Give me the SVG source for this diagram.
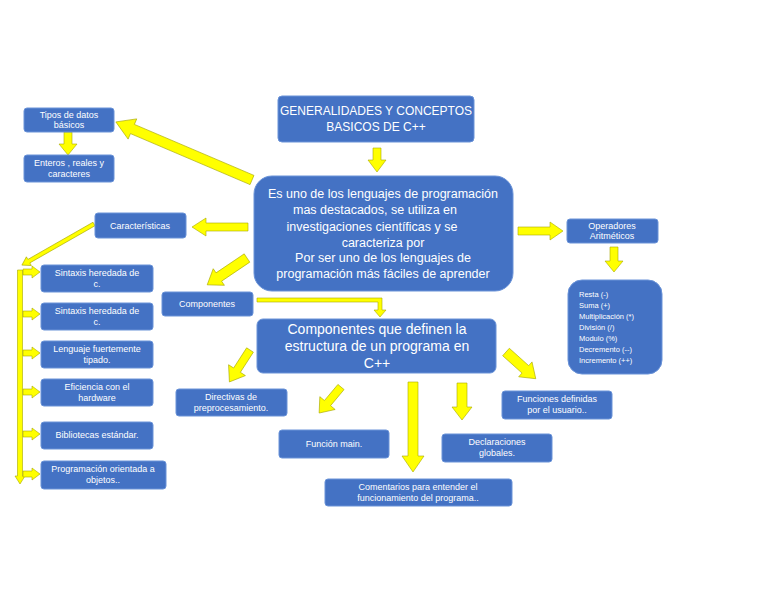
<svg xmlns="http://www.w3.org/2000/svg" width="768" height="594" viewBox="0 0 768 594">
<style>
.b{fill:#4472c4;stroke:#6a93d8;stroke-width:1}
.t{fill:#fff;font-family:"Liberation Sans",Arial,sans-serif;font-size:9px;text-anchor:middle}
.m{font-size:12.5px}
.a{fill:#ffff00;stroke:#a8a800;stroke-width:0.6}
</style>
<rect width="768" height="594" fill="#fff"/>
<g id="connectors">
<polygon class="a" transform="translate(377,148) rotate(90)" points="0,-4 12,-4 12,-9 24,0 12,9 12,4 0,4"/>
<polygon class="a" transform="translate(252,180) rotate(203.1)" points="0,-5 130,-5 130,-11 148,0 130,11 130,5 0,5"/>
<polygon class="a" transform="translate(68,132) rotate(90)" points="0,-4 12,-4 12,-9 23,0 12,9 12,4 0,4"/>
<polygon class="a" transform="translate(248,227) rotate(180)" points="0,-4 42,-4 42,-9 56,0 42,9 42,4 0,4"/>
<polygon class="a" transform="translate(94,224) rotate(150.3)" points="0,-2 75,-2 75,-5 83,0 75,5 75,2 0,2"/>
<polygon class="a" transform="translate(247,258) rotate(146)" points="0,-5 34,-5 34,-10 48,0 34,10 34,5 0,5"/>
<polygon class="a" points="257,298 382,298 382,310 386,310 380,317 374,310 378,310 378,302 257,302"/>
<polygon class="a" transform="translate(518,231) rotate(0)" points="0,-4 32,-4 32,-9 45,0 32,9 32,4 0,4"/>
<polygon class="a" transform="translate(614,247) rotate(90)" points="0,-4 14,-4 14,-9 25,0 14,9 14,4 0,4"/>
<polygon class="a" transform="translate(20,270) rotate(90)" points="0,-2.5 206,-2.5 206,-5 214,0 206,5 206,2.5 0,2.5"/>
<polygon class="a" transform="translate(23,272)" points="0,-3 9,-3 9,-6 17,0 9,6 9,3 0,3"/>
<polygon class="a" transform="translate(23,314)" points="0,-3 9,-3 9,-6 17,0 9,6 9,3 0,3"/>
<polygon class="a" transform="translate(23,353)" points="0,-3 9,-3 9,-6 17,0 9,6 9,3 0,3"/>
<polygon class="a" transform="translate(23,392)" points="0,-3 9,-3 9,-6 17,0 9,6 9,3 0,3"/>
<polygon class="a" transform="translate(23,434)" points="0,-3 9,-3 9,-6 17,0 9,6 9,3 0,3"/>
<polygon class="a" transform="translate(23,474)" points="0,-3 9,-3 9,-6 17,0 9,6 9,3 0,3"/>
<polygon class="a" transform="translate(250,350) rotate(122.8)" points="0,-4 24,-4 24,-10 38,0 24,10 24,4 0,4"/>
<polygon class="a" transform="translate(341,387) rotate(130)" points="0,-4 21,-4 21,-10 34,0 21,10 21,4 0,4"/>
<polygon class="a" transform="translate(413,382) rotate(90)" points="0,-5 74,-5 74,-11 90,0 74,11 74,5 0,5"/>
<polygon class="a" transform="translate(462,383) rotate(90)" points="0,-5 24,-5 24,-10 37,0 24,10 24,5 0,5"/>
<polygon class="a" transform="translate(506,352) rotate(41.9)" points="0,-5 26,-5 26,-10 40,0 26,10 26,5 0,5"/>
</g>
<g id="n-title"><rect class="b" x="278" y="96" width="196" height="46" rx="4"/><text class="t" style="font-size:12px" x="376" y="115">GENERALIDADES Y CONCEPTOS</text><text class="t" style="font-size:12px" x="376" y="131">BASICOS DE C++</text></g>
<g id="n-main"><rect class="b" x="254" y="176" width="259" height="115" rx="18"/>
<text class="t m" x="383" y="198">Es uno de los lenguajes  de programación</text>
<text class="t m" x="375" y="214">mas destacados, se utiliza en</text>
<text class="t m" x="372" y="231">investigaciones científicas y  se</text>
<text class="t m" x="383" y="247">caracteriza por</text>
<text class="t m" x="383" y="262">Por ser uno de los lenguajes  de</text>
<text class="t m" x="383" y="278">programación  más  fáciles de aprender</text></g>
<g id="n-tipos"><rect class="b" x="24" y="108" width="90" height="24" rx="3"/><text class="t" x="69" y="118">Tipos de datos</text><text class="t" x="69" y="128">básicos</text></g>
<g id="n-enteros"><rect class="b" x="24" y="155" width="90" height="27" rx="3"/><text class="t" x="69" y="166">Enteros , reales  y</text><text class="t" x="69" y="177">caracteres</text></g>
<g id="n-caract"><rect class="b" x="95" y="213" width="91" height="25" rx="3"/><text class="t" x="140" y="229">Características</text></g>
<g id="n-c1"><rect class="b" x="41" y="265" width="112" height="27" rx="3"/><text class="t" x="97" y="276">Sintaxis heredada de</text><text class="t" x="97" y="287">c.</text></g>
<g id="n-c2"><rect class="b" x="41" y="303" width="112" height="27" rx="3"/><text class="t" x="97" y="314">Sintaxis heredada de</text><text class="t" x="97" y="325">c.</text></g>
<g id="n-c3"><rect class="b" x="41" y="341" width="112" height="27" rx="3"/><text class="t" x="97" y="352">Lenguaje fuertemente</text><text class="t" x="97" y="363">tipado.</text></g>
<g id="n-c4"><rect class="b" x="41" y="379" width="112" height="27" rx="3"/><text class="t" x="97" y="390">Eficiencia  con el</text><text class="t" x="97" y="401">hardware</text></g>
<g id="n-c5"><rect class="b" x="41" y="422" width="112" height="27" rx="3"/><text class="t" x="97" y="438">Bibliotecas estándar.</text></g>
<g id="n-c6"><rect class="b" x="41" y="461" width="125" height="28" rx="3"/><text class="t" x="103" y="472">Programación orientada a</text><text class="t" x="103" y="483">objetos..</text></g>
<g id="n-componentes"><rect class="b" x="162" y="292" width="91" height="24" rx="3"/><text class="t" x="207" y="307">Componentes</text></g>
<g id="n-compbox"><rect class="b" x="257" y="319" width="239" height="54" rx="6"/>
<text class="t" style="font-size:14px" x="377" y="334">Componentes que definen la</text>
<text class="t" style="font-size:14px" x="377" y="351">estructura de un programa en</text>
<text class="t" style="font-size:14px" x="377" y="368">C++</text></g>
<g id="n-directivas"><rect class="b" x="176" y="389" width="111" height="27" rx="3"/><text class="t" x="231" y="400">Directivas  de</text><text class="t" x="231" y="411">preprocesamiento.</text></g>
<g id="n-main2"><rect class="b" x="279" y="430" width="110" height="28" rx="3"/><text class="t" x="334" y="447">Función main.</text></g>
<g id="n-coment"><rect class="b" x="325" y="479" width="187" height="27" rx="3"/><text class="t" x="418" y="490">Comentarios para entender el</text><text class="t" x="418" y="501">funcionamiento del programa..</text></g>
<g id="n-decl"><rect class="b" x="442" y="434" width="110" height="28" rx="3"/><text class="t" x="497" y="445">Declaraciones</text><text class="t" x="497" y="456">globales.</text></g>
<g id="n-func"><rect class="b" x="502" y="391" width="110" height="28" rx="3"/><text class="t" x="557" y="402">Funciones definidas</text><text class="t" x="557" y="413">por el usuario..</text></g>
<g id="n-oper"><rect class="b" x="567" y="219" width="91" height="24" rx="3"/><text class="t" x="612" y="229">Operadores</text><text class="t" x="612" y="239">Aritméticos</text></g>
<g id="n-list"><rect class="b" x="568" y="280" width="94" height="94" rx="14"/>
<g class="t" style="text-anchor:start;font-size:7.5px">
<text x="579" y="297">Resta (-)</text><text x="579" y="308">Suma (+)</text><text x="579" y="319">Multiplicación (*)</text><text x="579" y="330">División (/)</text><text x="579" y="341">Modulo (%)</text><text x="579" y="352">Decremento (--)</text><text x="579" y="363">Incremento (++)</text></g></g>
</svg>
